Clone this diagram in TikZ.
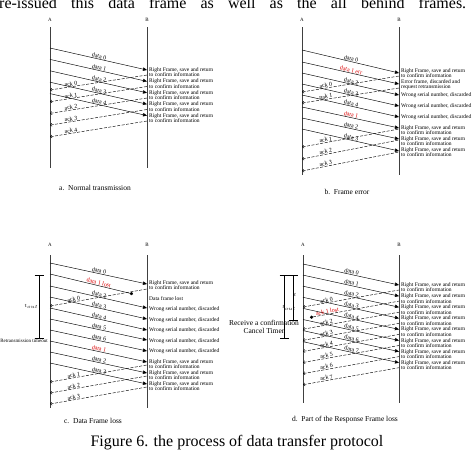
\documentclass[tikz,border=0pt]{standalone}
\usepackage{fontspec}
\setmainfont{Liberation Serif}
\usetikzlibrary{arrows.meta}

\colorlet{lostred}{red!85!black}
\newcommand{\okmsg}{Right Frame, save and return\\to confirm information}
\newcommand{\badmsg}{Wrong serial number, discarded}

\tikzset{
  lifeline/.style={line width=0.7pt, black!75},
  dframe/.style={line width=0.45pt, -{Triangle[length=4pt,width=3.4pt]}},
  aframe/.style={line width=0.45pt, dash pattern=on 3pt off 1.5pt, {Straight Barb[length=1.6pt,width=3pt]}-},
  lostack/.style={line width=0.45pt, dash pattern=on 3pt off 1.5pt, {Circle[length=3.2pt]}-},
  lostframe/.style={line width=0.45pt, -{Circle[length=3.2pt]}},
  flabel/.style={font=\fontsize{6}{6}\selectfont, above, sloped, inner sep=0.5pt},
  note/.style={font=\fontsize{5.5}{5.4}\selectfont, anchor=north west, align=left, inner sep=0pt},
  endname/.style={font=\fontsize{5}{5}\selectfont, inner sep=0pt},
  subcap/.style={font=\fontsize{7.5}{8}\selectfont},
  timer/.style={line width=0.45pt, {Bar[width=9pt]}-{Bar[width=9pt]}},
  tinytext/.style={font=\fontsize{5}{5}\selectfont, inner sep=0.5pt}
}

\begin{document}
\begin{tikzpicture}[x=1pt,y=-1pt]
  \useasboundingbox (0,0) rectangle (474,475);

  % text of the page round the figure
  \node[anchor=base west, inner sep=0pt, font=\fontsize{16}{18}\selectfont] (toptext) at (-1,8.3)
    {\makebox[467pt][s]{re-issued this data frame as well as the all behind frames.}};
  \node[anchor=base, inner sep=0pt, font=\fontsize{16}{18}\selectfont] (figcap) at (237,446)
    {Figure 6. the process of data transfer protocol};

  % a. normal transmission
  \begin{scope}[shift={(50,0)}]
    \node[endname] (aA) at (0,20) {A};
    \node[endname] (aB) at (97,20) {B};
    \coordinate (aA0) at (0,27);  \coordinate (aA1) at (0,168);
    \coordinate (aB0) at (97,27); \coordinate (aB1) at (97,168);
    \draw[lifeline] (aA0) -- (aA1);
    \draw[lifeline] (aB0) -- (aB1);
    \foreach \i in {0,...,4} {
      \coordinate (ads\i) at (0,{48+11.4*\i});
      \coordinate (ade\i) at (97,{70+11.4*\i});
      \draw[dframe] (ads\i) -- node[flabel] (adl\i) {data \i} (ade\i);
      \node[note] (ano\i) at (99,{67.5+11.4*\i}) {\okmsg};
    }
    \foreach \i in {0,...,4} {
      \coordinate (aas\i) at (97,{75+11.5*\i});
      \coordinate (aae\i) at (0,{90+11.7*\i});
      \draw[aframe] (aae\i) -- node[flabel,pos=0.22] (aal\i) {ack \i} (aas\i);
    }
    \node[subcap] (acap) at (45,188) {a.\ \ Normal transmission};
  \end{scope}

  % b. frame error
  \begin{scope}[shift={(302,0)}]
    \node[endname] (bA) at (0,20) {A};
    \node[endname] (bB) at (97,20) {B};
    \coordinate (bA0) at (0,27);  \coordinate (bA1) at (0,175);
    \coordinate (bB0) at (97,27); \coordinate (bB1) at (97,175);
    \draw[lifeline] (bA0) -- (bA1);
    \draw[lifeline] (bB0) -- (bB1);
    \foreach \i/\ya/\yb/\lab/\col in {0/50/73/data 0/black, 1/62/84/data 1 err/lostred,
        2/73/95/data 2/black, 3/84/106/data 3/black, 4/95/117/data 4/black,
        5/107/128/data 1/lostred, 6/118/139/data 2/black, 7/129/151/data 3/black} {
      \coordinate (bds\i) at (0,\ya);
      \coordinate (bde\i) at (97,\yb);
      \draw[dframe] (bds\i) -- node[flabel,text=\col] (bdl\i) {\lab} (bde\i);
    }
    \foreach \i/\ya/\yb/\lab in {0/92/76/ack 0, 1/103/88/nak 1, 2/147/129/ack 1,
        3/159/140/ack 2, 4/171/152/ack 3} {
      \coordinate (bas\i) at (97,\yb);
      \coordinate (bae\i) at (0,\ya);
      \draw[aframe] (bae\i) -- node[flabel,pos=0.25] (bal\i) {\lab} (bas\i);
    }
    \foreach \i/\y/\txt in {0/71/\okmsg, 1/82/{Error frame, discarded and\\request retransmission},
        2/95/\badmsg, 3/106/\badmsg, 4/117/\badmsg, 5/128/\okmsg, 6/139/\okmsg, 7/150/\okmsg} {
      \node[note] (bno\i) at (99,{\y-2.5}) {\txt};
    }
    \node[subcap] (bcap) at (45,192) {b.\ \ Frame error};
  \end{scope}

  % c. data frame loss
  \begin{scope}[shift={(50,0)}]
    \node[endname] (cA) at (0,245) {A};
    \node[endname] (cB) at (97,245) {B};
    \coordinate (cA0) at (0,255);  \coordinate (cA1) at (0,408);
    \coordinate (cB0) at (97,255); \coordinate (cB1) at (97,408);
    \draw[lifeline] (cA0) -- (cA1);
    \draw[lifeline] (cB0) -- (cB1);
    \foreach \i/\ya/\yb/\lab/\col in {0/263/284/data 0/black, 2/286/308/data 2/black,
        3/297/319/data 3/black, 4/308/330/data 4/black, 5/319/340/data 5/black,
        6/330/351/data 6/black, 7/341/362/data 1/lostred, 8/352/373/data 2/black,
        9/363/384/data 3/black} {
      \coordinate (cds\i) at (0,\ya);
      \coordinate (cde\i) at (97,\yb);
      \draw[dframe] (cds\i) -- node[flabel,text=\col] (cdl\i) {\lab} (cde\i);
    }
    \coordinate (cds1) at (0,274);
    \coordinate (cdx1) at (83,294);
    \draw[lostframe] (cds1) -- node[flabel,text=lostred,pos=0.58] (cdl1) {data 1 lost} (cdx1);
    \foreach \i/\ya/\yb/\lab in {0/306/289/ack 0, 1/382/365/ack 1, 2/393/376/ack 2, 3/404/387/ack 3} {
      \coordinate (cas\i) at (97,\yb);
      \coordinate (cae\i) at (0,\ya);
      \draw[aframe] (cae\i) -- node[flabel,pos=0.25] (cal\i) {\lab} (cas\i);
    }
    \foreach \i/\y/\txt in {0/283/\okmsg, 1/299/Data frame lost, 2/309/\badmsg, 3/320/\badmsg,
        4/330/\badmsg, 5/341/\badmsg, 6/351/\badmsg, 7/362/\okmsg, 8/373/\okmsg, 9/384/\okmsg} {
      \node[note] (cno\i) at (99,{\y-2.5}) {\txt};
    }
    \node[subcap] (ccap) at (43,421) {c.\ \ Data Frame loss};
  \end{scope}
  \coordinate (ct0) at (39,275);
  \coordinate (ct1) at (39,338);
  \draw[timer] (ct0) -- node[tinytext,left] (ctl) {$t_{out}$} (ct1);
  \node[tinytext] (ctx) at (24,341) {Retransmission timeout};

  % d. part of the response frame loss
  \begin{scope}[shift={(303,0)}]
    \node[endname] (dA) at (0,245) {A};
    \node[endname] (dB) at (96,245) {B};
    \coordinate (dA0) at (0,255);  \coordinate (dA1) at (0,403);
    \coordinate (dB0) at (96,255); \coordinate (dB1) at (96,403);
    \draw[lifeline] (dA0) -- (dA1);
    \draw[lifeline] (dB0) -- (dB1);
    \foreach \i in {0,...,7} {
      \coordinate (dds\i) at (0,{264+11.1*\i});
      \coordinate (dde\i) at (96,{285+11.1*\i});
      \draw[dframe] (dds\i) -- node[flabel] (ddl\i) {data \i} (dde\i);
      \node[note] (dno\i) at (98,{282.5+11.1*\i}) {\okmsg};
    }
    \foreach \i in {0,2,3,4,5,6,7} {
      \coordinate (das\i) at (96,{290+11.1*\i});
      \coordinate (dae\i) at (0,{307+11.1*\i});
      \draw[aframe] (dae\i) -- node[flabel,pos=0.25] (dal\i) {ack \i} (das\i);
    }
    \coordinate (das1) at (96,301.1);
    \coordinate (dax1) at (7,317.5);
    \draw[lostack] (dax1) -- node[flabel,text=lostred,pos=0.2] (dal1) {ack 1 lost} (das1);
    \node[subcap] (dcap) at (42,420) {d.\ \ Part of the Response Frame loss};
  \end{scope}
  \coordinate (dt0) at (284,275);
  \coordinate (dt1) at (284,338);
  \draw[timer] (dt0) -- (dt1);
  \node[tinytext] (dtl) at (289,308) {$t_{out}$};
  \coordinate (du0) at (293,275);
  \coordinate (du1) at (293,320);
  \draw[timer] (du0) -- node[tinytext,right,pos=0.45] (dul) {$t$} (du1);
  \node[align=center, font=\fontsize{7.5}{7.5}\selectfont, inner sep=0pt] (drecv) at (264,327)
    {Receive a confirmation\\Cancel Timer};
\end{tikzpicture}
\end{document}
